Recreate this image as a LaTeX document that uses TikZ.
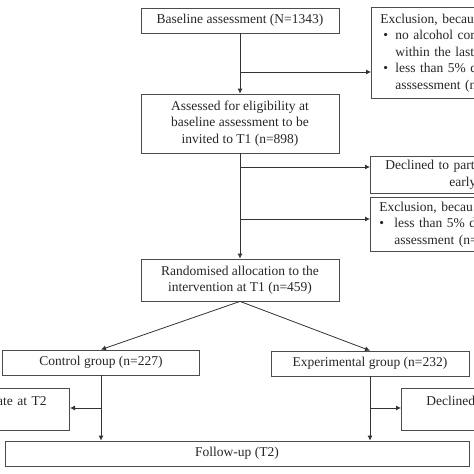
\documentclass[tikz,border=0pt]{standalone}
\usepackage{fontspec}
\setmainfont{Liberation Serif}
\usetikzlibrary{arrows.meta}

\begin{document}
\begin{tikzpicture}[x = 1pt, y = -1pt,
            every node/.style = {font = \fontsize{13.5}{16.5}\selectfont, text = black!85},
            box/.style = {draw = black!70, line width = 0.8pt, minimum width = 198pt, inner sep = 0pt, align = center},
            sidebox/.style = {draw = black!70, line width = 0.8pt, anchor = north west, text width = 180pt,
                              inner xsep = 9pt, inner ysep = 0pt, align = left},
            arr/.style = {draw = black!80, line width = 0.8pt, -{Latex[length = 5pt, width = 5pt]}}]
            \useasboundingbox (0,0) rectangle (474,474);
            \clip (0,0) rectangle (474,474);

            % main column
            \node[box, minimum height = 25pt] (base) at (240,20.5) {Baseline assessment (N=1343)};
            \node[box, minimum height = 59pt] (elig) at (240,123.5)
                {Assessed for eligibility at\\baseline assessment to be\\invited to T1 (n=898)};
            \node[box, minimum height = 42pt] (rand) at (240,280)
                {Randomised allocation to the\\intervention at T1 (n=459)};
            \node[box, minimum width = 197pt, minimum height = 25pt] (ctrl) at (101,362.5) {Control group (n=227)};
            \node[box, minimum height = 25pt] (expm) at (370,363.5) {Experimental group (n=232)};
            \node[box, minimum width = 464pt, minimum height = 25pt] (follow) at (237,453.5) {Follow-up (T2)};

            % side boxes
            \node[sidebox, minimum height = 91pt] (excl1) at (371,7)
                {Exclusion, becau\\
                 \hspace*{3pt}\makebox[12pt][l]{\textbullet}no alcohol cor\\
                 \hspace*{15pt}within the last\\
                 \hspace*{3pt}\makebox[12pt][l]{\textbullet}less than 5\% d\\
                 \hspace*{15pt}asssessment (n};
            \node[sidebox, minimum height = 37pt] (decl1) at (370,156)
                {\hspace*{6pt}Declined to part\\\hspace*{70pt}early};
            \node[sidebox, minimum height = 54pt] (excl2) at (370,197)
                {Exclusion, becau\\
                 \makebox[15pt][l]{\textbullet}less than 5\% d\\
                 \hspace*{15pt}assessment (n=};
            \node[sidebox, anchor = north east, text width = 100pt, inner xsep = 23pt, align = right,
                  minimum height = 42pt] (declC) at (70,388) {ate at T2\\\mbox{}};
            \node[sidebox, text width = 100pt, inner xsep = 25pt, minimum height = 42pt] (declE) at (401,388)
                {Declined\\\mbox{}};

            % connectors
            \coordinate (j1) at (240,72);
            \coordinate (j2) at (240,167);
            \coordinate (j3) at (240,219);
            \coordinate (j4) at (ctrl.south |- 0,408);
            \coordinate (j5) at (expm.south |- 0,408);
            \draw[arr] (base) -- (elig);
            \draw[arr] (j1) -- (j1 -| excl1.west);
            \draw[arr] (elig) -- (rand);
            \draw[arr] (j2) -- (j2 -| decl1.west);
            \draw[arr] (j3) -- (j3 -| excl2.west);
            \draw[arr] (rand.south) -- (ctrl.north);
            \draw[arr] (rand.south) -- (expm.north);
            \draw[arr] (ctrl.south) -- (ctrl.south |- follow.north);
            \draw[arr] (expm.south) -- (expm.south |- follow.north);
            \draw[arr] (j4) -- (j4 -| declC.east);
            \draw[arr] (j5) -- (j5 -| declE.west);
        \end{tikzpicture}
\end{document}
